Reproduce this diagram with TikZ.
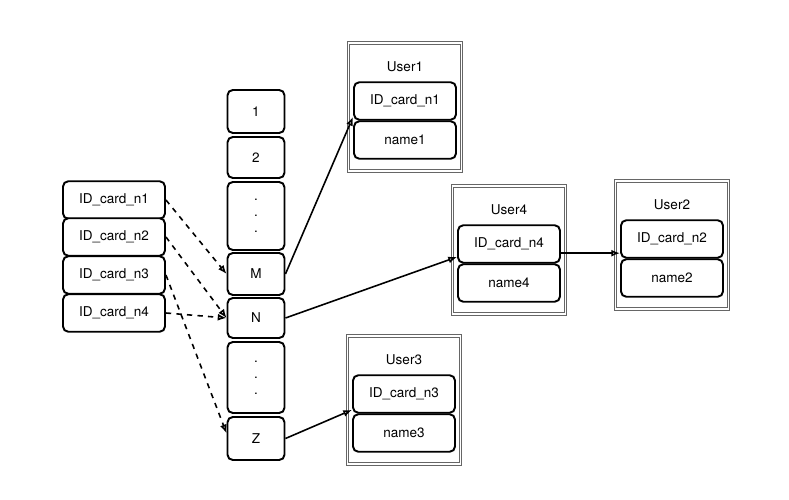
\documentclass[tikz,border=0pt]{standalone}
\usepackage{fontspec}
\setsansfont{TeX Gyre Heros}
\usepackage{tikz}
\usetikzlibrary{arrows.meta, positioning}

\begin{document}
\begin{tikzpicture}[x=0.02cm, y=-0.02cm,
    txt/.style={font=\sffamily\fontsize{7.7}{9}\selectfont},
    keycell/.style={txt, draw, line width=1.1pt, fill=white, rounded corners=3pt,
      minimum width=2.04cm, minimum height=0.75cm, inner sep=0pt},
    bucket/.style={txt, draw, line width=1.1pt, fill=white, rounded corners=3pt,
      minimum width=1.14cm, inner sep=0pt, align=center},
    userbox/.style={draw=black!60, line width=0.6pt, double=white,
      double distance=1pt, minimum width=2.26cm, minimum height=2.56cm,
      inner sep=0pt},
    link/.style={line width=0.9pt, -{Latex[open, length=5pt, width=4pt]}},
    hashlink/.style={link, dashed}]
  \useasboundingbox (0,0) rectangle (789,500);
  % keys on the left
  \foreach \i/\y in {1/200, 2/237, 3/275, 4/313}
    \node[keycell] (k\i) at (114,\y) {ID\_card\_n\i};
  % hash buckets
  \foreach \nm/\y/\h/\t in {b1/111.5/43/1, b2/157.5/41/2,
      d1/216/68/{.\\.\\.}, M/274/42/M, N/318/40/N,
      d2/377.5/71/{.\\.\\.}, Z/438.5/43/Z}
    \node[bucket, minimum height=\h*0.02cm] (\nm) at (256,\y) {\t};
  % user records
  \foreach \n/\x/\y in {1/405/107, 4/509/250, 2/672/245, 3/404/400} {
    \node[userbox] (u\n) at (\x,\y) {};
    \node[txt] (t\n) at (\x,\y-40) {User\n};
    \node[keycell] (id\n) at (\x,\y-6) {ID\_card\_n\n};
    \node[keycell] (nm\n) at (\x,\y+33) {name\n};
  }
  % key -> bucket (dashed)
  \draw[hashlink] (k1.east) -- (M.west);
  \draw[hashlink] (k2.east) -- (N.west);
  \draw[hashlink] (k3.east) -- (Z.170);
  \draw[hashlink] (k4.east) -- (N.west);
  % bucket -> record
  \draw[link] (M.east) -- (id1.197);
  \draw[link] (N.east) -- (id4.194);
  \draw[link] (Z.east) -- (id3.197);
  \draw[link] (id4.-10) -- (id2.west |- id4.-10);
\end{tikzpicture}
\end{document}
